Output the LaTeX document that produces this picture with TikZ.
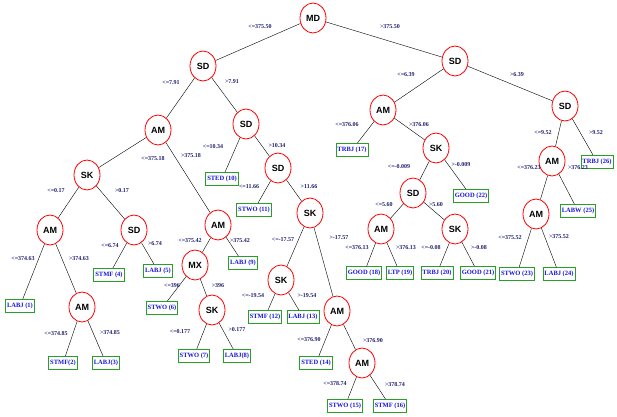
\documentclass[tikz,border=0pt]{standalone}
\usepackage{fontspec}
\setmainfont{Liberation Serif}
\newfontfamily\arialf{Liberation Sans}
\usetikzlibrary{shapes.geometric}
\definecolor{lblue}{RGB}{30,30,110}
\definecolor{bblue}{RGB}{20,20,220}
\definecolor{bgreen}{RGB}{40,160,40}
\tikzset{
 test/.style={ellipse,draw=red,thick,fill=white,minimum width=26pt,minimum height=30pt,inner sep=0pt,font=\arialf\bfseries\fontsize{9}{9}\selectfont},
 leaf/.style={draw=bgreen,thick,fill=white,inner sep=1.5pt,minimum height=13pt,text=bblue,font=\bfseries\fontsize{6.5}{7}\selectfont},
 el/.style={text=lblue,font=\bfseries\fontsize{6}{7}\selectfont,inner sep=0pt},
 edge/.style={draw=black,thin}
}
\begin{document}
\begin{tikzpicture}[x=1pt,y=-1pt]
\useasboundingbox (0,0) rectangle (617,416);
% internal nodes
\node[test] (MD) at (313,18) {MD};
\node[test] (SD1) at (203,66) {SD};
\node[test] (SD2) at (455,61) {SD};
\node[test] (AMa) at (158,130) {AM};
\node[test] (SDb) at (246,124) {SD};
\node[test] (SKc) at (87,175) {SK};
\node[test] (SDd) at (278,168) {SD};
\node[test] (SKe) at (310,213) {SK};
\node[test] (AMf) at (218,225) {AM};
\node[test] (MX) at (195,265) {MX};
\node[test] (SKg) at (212,310) {SK};
\node[test] (AMh) at (50,230) {AM};
\node[test] (SDi) at (134,230) {SD};
\node[test] (AMj) at (82,307) {AM};
\node[test] (SKk) at (281,280) {SK};
\node[test] (AMl) at (337,311) {AM};
\node[test] (AMm) at (362,363) {AM};
\node[test] (AMn) at (383,110) {AM};
\node[test] (SKo) at (436,148) {SK};
\node[test] (SDp) at (413,193) {SD};
\node[test] (SDq) at (565,106) {SD};
\node[test] (AMr) at (552,161) {AM};
\node[test] (AMs) at (536,214) {AM};
\node[test] (AMt) at (381,229) {AM};
\node[test] (SKu) at (455,229) {SK};
% leaves
\node[leaf] (L10) at (222,179) {STED (10)};
\node[leaf] (L11) at (254,210) {STWO (11)};
\node[leaf] (L9) at (243,263) {LABJ (9)};
\node[leaf] (L6) at (162,308) {STWO (6)};
\node[leaf] (L7) at (194,356) {STWO (7)};
\node[leaf] (L8) at (237,356) {LABJ(8)};
\node[leaf] (L1) at (20,306) {LABJ (1)};
\node[leaf] (L2) at (63,363) {STMF(2)};
\node[leaf] (L3) at (106,363) {LABJ(3)};
\node[leaf] (L4) at (109,275) {STMF (4)};
\node[leaf] (L5) at (158,271) {LABJ (5)};
\node[leaf] (L12) at (265,317) {STMF (12)};
\node[leaf] (L13) at (303,317) {LABJ (13)};
\node[leaf] (L14) at (316,363) {STED (14)};
\node[leaf] (L15) at (345,406) {STWO (15)};
\node[leaf] (L16) at (390,406) {STMF (16)};
\node[leaf] (L17) at (352,150) {TRBJ (17)};
\node[leaf] (L22) at (471,196) {GOOD (22)};
\node[leaf] (L26) at (597,162) {TRBJ (26)};
\node[leaf] (L25) at (578,211) {LABW (25)};
\node[leaf] (L23) at (517,274) {STWO (23)};
\node[leaf] (L24) at (559,274) {LABJ (24)};
\node[leaf] (L18) at (364,273) {GOOD (18)};
\node[leaf] (L19) at (400,273) {LTP (19)};
\node[leaf] (L20) at (437,273) {TRBJ (20)};
\node[leaf] (L21) at (478,273) {GOOD (21)};
% edges
\begin{scope}[on background layer/.style={}]
\foreach \a/\b in {MD/SD1,MD/SD2,SD1/AMa,SD1/SDb,AMa/SKc,AMa/AMf,SDb/L10,SDb/SDd,SDd/L11,SDd/SKe,
 SKc/AMh,SKc/SDi,AMh/L1,AMh/AMj,AMj/L2,AMj/L3,SDi/L4,SDi/L5,AMf/MX,AMf/L9,MX/L6,MX/SKg,SKg/L7,SKg/L8,
 SKe/SKk,SKe/AMl,SKk/L12,SKk/L13,AMl/L14,AMl/AMm,AMm/L15,AMm/L16,
 SD2/AMn,SD2/SDq,AMn/L17,AMn/SKo,SKo/SDp,SKo/L22,SDp/AMt,SDp/SKu,AMt/L18,AMt/L19,SKu/L20,SKu/L21,
 SDq/AMr,SDq/L26,AMr/AMs,AMr/L25,AMs/L23,AMs/L24}
 \draw[edge] (\a) -- (\b);
\end{scope}
% edge labels
\node[el] (e1) at (260,27) {<=375.50};
\node[el] (e2) at (390,27) {>375.50};
\node[el] (e3) at (171,83) {<=7.91};
\node[el] (e4) at (232,82) {>7.91};
\node[el] (e5) at (153,159) {<=375.18};
\node[el] (e6) at (191,156) {>375.18};
\node[el] (e7) at (213,147) {<=10.34};
\node[el] (e8) at (277,146) {>10.34};
\node[el] (e9) at (249,187) {<=11.66};
\node[el] (e10) at (309,187) {>11.66};
\node[el] (e11) at (56,191) {<=0.17};
\node[el] (e12) at (122,191) {>0.17};
\node[el] (e13) at (23,259) {<=374.63};
\node[el] (e14) at (79,259) {>374.63};
\node[el] (e15) at (56,334) {<=374.85};
\node[el] (e16) at (110,333) {>374.85};
\node[el] (e17) at (110,246) {<=6.74};
\node[el] (e18) at (155,244) {>6.74};
\node[el] (e19) at (190,241) {<=375.42};
\node[el] (e20) at (240,241) {>375.42};
\node[el] (e21) at (172,286) {<=396};
\node[el] (e22) at (218,286) {>396};
\node[el] (e23) at (180,332) {<=0.177};
\node[el] (e24) at (237,330) {>0.177};
\node[el] (e25) at (283,240) {<=-17.57};
\node[el] (e26) at (339,238) {>-17.57};
\node[el] (e27) at (253,296) {<=-19.54};
\node[el] (e28) at (307,296) {>-19.54};
\node[el] (e29) at (309,340) {<=376.90};
\node[el] (e30) at (373,341) {>376.90};
\node[el] (e31) at (335,384) {<=378.74};
\node[el] (e32) at (395,385) {>378.74};
\node[el] (e33) at (406,75) {<=6.39};
\node[el] (e34) at (517,75) {>6.39};
\node[el] (e35) at (347,125) {<=376.06};
\node[el] (e36) at (419,125) {>376.06};
\node[el] (e37) at (399,167) {<=-0.009};
\node[el] (e38) at (461,165) {>-0.009};
\node[el] (e39) at (384,205) {<=5.60};
\node[el] (e40) at (436,205) {>5.60};
\node[el] (e41) at (357,248) {<=376.13};
\node[el] (e42) at (406,248) {>376.13};
\node[el] (e43) at (431,248) {<=-0.08};
\node[el] (e44) at (479,248) {>-0.08};
\node[el] (e45) at (543,133) {<=9.52};
\node[el] (e46) at (596,133) {>9.52};
\node[el] (e47) at (529,168) {<=376.23};
\node[el] (e48) at (578,168) {>376.23};
\node[el] (e49) at (510,238) {<=375.52};
\node[el] (e50) at (559,237) {>375.52};
\end{tikzpicture}
\end{document}
